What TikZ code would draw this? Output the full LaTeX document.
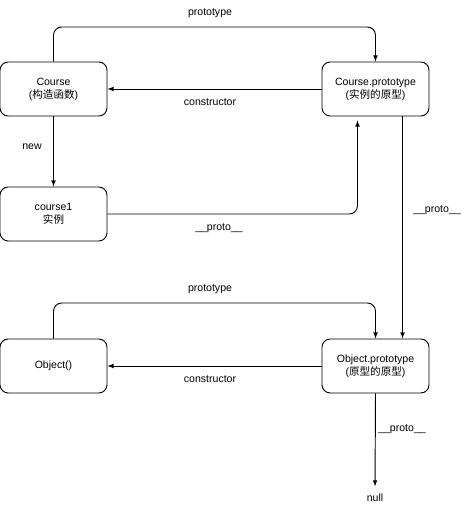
\documentclass[tikz,border=0pt]{standalone}
\usepackage{fontspec}
\setmainfont{Liberation Sans}
\newfontfamily\cjk{Noto Sans CJK SC}
\usetikzlibrary{positioning}

\begin{document}
\begin{tikzpicture}[x=0.03cm, y=0.03cm, line width=0.8pt,
        font=\fontsize{9pt}{11pt}\selectfont,
        box/.style={draw, rounded corners=7pt, minimum width=3.21cm, minimum height=1.62cm, align=center},
        arr/.style={-latex, rounded corners=7pt}]
            \useasboundingbox (0,0) rectangle (474,514);
            \node[box] (course) at (53.5,425){Course\\({\cjk 构造函数})};
            \node[box] (courseproto) at (375.5,425){Course.prototype\\({\cjk 实例的原型})};
            \node[box] (course1) at (53.5,300){course1\\{\cjk 实例}};
            \node[box] (object) at (53.5,148){Object()};
            \node[box] (objectproto) at (375.5,148){Object.prototype\\({\cjk 原型的原型})};
            \node (null) at (375,16){null};
            \coordinate (top1) at (0,487);
            \coordinate (top2) at (0,211);
            \draw[arr] (course.north) |- (top1 -| courseproto.north) -- (courseproto.north);
            \node at (210,501){prototype};
            \draw[arr] (courseproto.west) -- (course.east);
            \node at (210,412){constructor};
            \draw[arr] (course.south) -- (course1.north);
            \node at (32,367){new};
            \draw[arr] (course1.east) -| ([xshift=-0.54cm, yshift=-0.12cm]courseproto.south);
            \node at (219,286){\_\_proto\_\_};
            \draw[arr] ([xshift=0.81cm]courseproto.south) -- ([xshift=0.81cm]objectproto.north);
            \node at (437,304){\_\_proto\_\_};
            \draw[arr] (object.north) |- (top2 -| objectproto.north) -- (objectproto.north);
            \node at (210,225){prototype};
            \draw[arr] (objectproto.west) -- (object.east);
            \node at (210,135){constructor};
            \draw[arr, shorten >=0.1cm] (objectproto.south) -- (null.north);
            \node at (402,85){\_\_proto\_\_};
        \end{tikzpicture}
\end{document}
